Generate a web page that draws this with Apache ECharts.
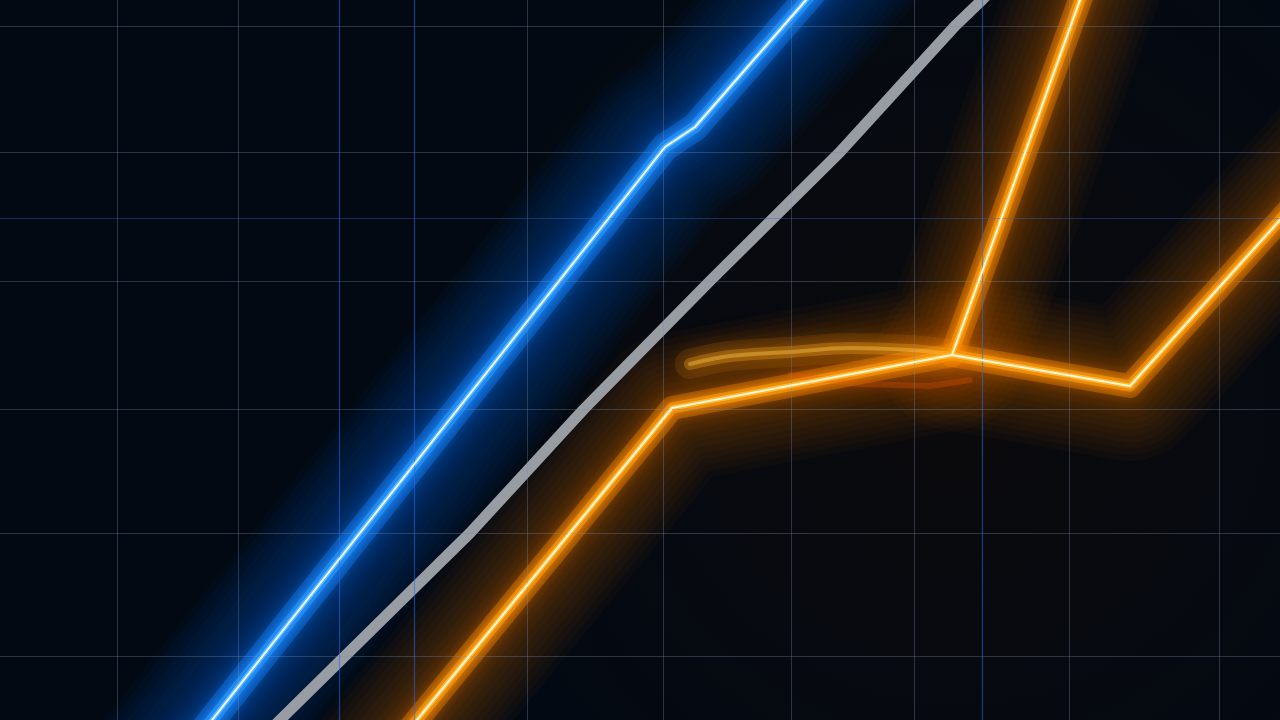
<!DOCTYPE html>
<html>
<head>
<meta charset="utf-8">
<style>
html,body{margin:0;padding:0;background:#020913;}
#chart{width:1280px;height:720px;}
</style>
<script src="https://cdn.jsdelivr.net/npm/echarts@6/dist/echarts.min.js"></script>
</head>
<body>
<div id="chart"></div>
<script>
// Grid tick positions (axis units)
var gridXTicks = [117, 238, 339, 414, 527, 663, 791, 914, 982, 1069, 1219];
var gridYTicks = [694, 568, 502, 439, 311, 187, 64];
var accentXTicks = [339, 414, 982];
var accentYTicks = [502];

// Series values [x, y]
var blueSeries = [[149, -80], [212, 0], [665, 573], [695, 593], [806, 720], [858, 780]];
var graySeries = [[202, -80], [280, 0], [470, 187], [584, 311], [710, 439], [840, 568], [955, 694], [982, 720], [1040, 780]];
var orangeSeriesA = [[352, -80], [417, 0], [672, 312], [952, 365], [1008, 520], [1080, 720], [1102, 780]];
var orangeSeriesB = [[952, 365], [1130, 334], [1280, 500], [1387, 620]];
var orangeHazeUpper = [[690, 356], [730, 364], [790, 368], [850, 372], [910, 370], [950, 366]];
var orangeHazeLower = [[790, 345], [860, 336], [930, 334], [970, 340]];

var chart = echarts.init(document.getElementById('chart'), null, {renderer: 'canvas'});

function lineLayer(data, color, width, blur, shadowColor, z, extra) {
  var s = {
    type: 'line',
    data: data,
    showSymbol: false,
    symbol: 'none',
    smooth: false,
    silent: true,
    clip: true,
    z: z,
    lineStyle: {
      color: color,
      width: width,
      cap: 'round',
      join: 'round',
      shadowBlur: blur,
      shadowColor: shadowColor
    }
  };
  if (extra) for (var k in extra) s.lineStyle[k] = extra[k];
  return s;
}

var series = [];
function halo(data, rgb, maxW, steps, alpha, offsetX) {
  for (var i = 0; i < steps; i++) {
    var w = maxW * (1 - i / steps);
    series.push(lineLayer(data, 'rgba(' + rgb + ',' + alpha + ')', w, 20, 'rgba(' + rgb + ',' + alpha + ')', 1,
      {shadowOffsetX: offsetX * (1 - i / steps)}));
  }
}

// grid lines
series.push({
  type: 'line', data: [], silent: true, z: 3,
  markLine: {
    silent: true, symbol: ['none', 'none'], label: {show: false},
    animation: false,
    lineStyle: {color: 'rgba(120,140,170,0.33)', width: 1, type: 'solid'},
    data: gridXTicks.filter(function(v){return accentXTicks.indexOf(v) < 0;}).map(function (v) { return {xAxis: v}; })
      .concat(gridYTicks.filter(function(v){return accentYTicks.indexOf(v) < 0;}).map(function (v) { return {yAxis: v}; }))
  }
});
series.push({
  type: 'line', data: [], silent: true, z: 3,
  markLine: {
    silent: true, symbol: ['none', 'none'], label: {show: false},
    animation: false,
    lineStyle: {color: 'rgba(45,105,225,0.55)', width: 1.2, type: 'solid'},
    data: accentXTicks.map(function (v) { return {xAxis: v}; })
  }
});
series.push({
  type: 'line', data: [], silent: true, z: 3,
  markLine: {
    silent: true, symbol: ['none', 'none'], label: {show: false},
    animation: false,
    lineStyle: {color: 'rgba(60,100,190,0.4)', width: 1, type: 'solid'},
    data: accentYTicks.map(function (v) { return {yAxis: v}; })
  }
});

// blue: soft halo + bright glow + white core
halo(blueSeries, '0,100,235', 170, 14, 0.04, -16);
series.push(lineLayer(blueSeries, 'rgba(20,130,255,0.38)', 28, 26, 'rgba(20,130,255,0.95)', 2));
series.push(lineLayer(blueSeries, 'rgba(40,150,255,0.65)', 12, 14, 'rgba(30,140,255,1)', 2));
series.push(lineLayer(blueSeries, 'rgba(90,185,255,0.95)', 5, 8, '#2a9bff', 4));
series.push(lineLayer(blueSeries, '#f2fbff', 2, 0, 'transparent', 5));

// gray line
series.push(lineLayer(graySeries, '#989da3', 11, 0, 'transparent', 4, {cap: 'butt'}));

// orange
[orangeSeriesA, orangeSeriesB].forEach(function (d) {
  halo(d, '235,120,0', 150, 12, 0.035, 10);
  series.push(lineLayer(d, 'rgba(255,140,10,0.32)', 24, 22, 'rgba(255,130,0,0.9)', 2));
  series.push(lineLayer(d, 'rgba(255,160,30,0.6)', 11, 12, 'rgba(255,140,0,1)', 2));
  series.push(lineLayer(d, 'rgba(255,185,50,0.95)', 5, 8, '#ff9a00', 4));
  series.push(lineLayer(d, '#fff6d6', 2, 0, 'transparent', 5));
});
var hz0 = lineLayer(orangeHazeUpper, 'rgba(255,150,20,0.12)', 30, 30, 'rgba(255,130,0,0.7)', 2);
hz0.smooth = 0.4;
series.push(hz0);
var hz1 = lineLayer(orangeHazeUpper, 'rgba(255,170,30,0.3)', 12, 22, 'rgba(255,140,0,0.9)', 2);
hz1.smooth = 0.4;
series.push(hz1);
var hz2 = lineLayer(orangeHazeUpper, 'rgba(255,205,80,0.4)', 4, 12, 'rgba(255,160,0,0.9)', 2);
hz2.smooth = 0.4;
series.push(hz2);
series.push(lineLayer(orangeHazeLower, 'rgba(230,80,10,0.3)', 6, 18, 'rgba(255,80,0,0.8)', 2));

chart.setOption({
  backgroundColor: {
    type: 'radial', x: 0.75, y: 0.55, r: 0.8,
    colorStops: [{offset: 0, color: '#0b0a0c'}, {offset: 1, color: '#020913'}]
  },
  animation: false,
  grid: {left: 0, right: 0, top: 0, bottom: 0, containLabel: false},
  xAxis: {type: 'value', min: 0, max: 1280, show: false, splitLine: {show: false}},
  yAxis: {type: 'value', min: 0, max: 720, show: false, splitLine: {show: false}},
  series: series
});
</script>
</body>
</html>
